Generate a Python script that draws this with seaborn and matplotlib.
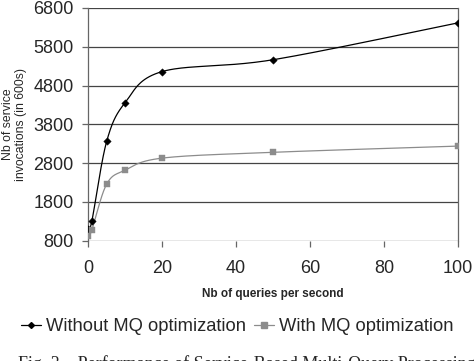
import numpy as np
import pandas as pd
import matplotlib
matplotlib.use("Agg")
import matplotlib.pyplot as plt
import seaborn as sns
from matplotlib.lines import Line2D

queries = [0, 1, 5, 10, 20, 50, 100]
without_mq = [1110, 1310, 3360, 4360, 5160, 5465, 6415]
with_mq = [930, 1080, 2260, 2620, 2930, 3080, 3240]
series_names = ["Without MQ optimization", "With MQ optimization"]
y_ticks = [800, 1800, 2800, 3800, 4800, 5800, 6800]
x_ticks = [0, 20, 40, 60, 80, 100]

sns.set_style("white")
plt.rcParams["font.family"] = ["Liberation Sans", "DejaVu Sans"]

fig = plt.figure(figsize=(4.74, 3.61), dpi=100)
ax = fig.add_axes([0.186, 0.333, 0.780, 0.645])

def smooth(xs, ys, sx=3.7, sy=0.039, n=40):
    # Excel-like smoothed line (Bezier with Catmull-Rom control points) in screen scale
    P = np.column_stack([np.asarray(xs, float) * sx, np.asarray(ys, float) * sy])
    out = []
    for i in range(len(P) - 1):
        p0 = P[i - 1] if i > 0 else P[i]
        p1, p2 = P[i], P[i + 1]
        p3 = P[i + 2] if i + 2 < len(P) else P[i + 1]
        c1 = p1 + (p2 - p0) / 6.0
        c2 = p2 - (p3 - p1) / 6.0
        t = np.linspace(0, 1, n)[:, None]
        seg = (1 - t) ** 3 * p1 + 3 * (1 - t) ** 2 * t * c1 + 3 * (1 - t) * t ** 2 * c2 + t ** 3 * p2
        out.append(seg if i == 0 else seg[1:])
    S = np.vstack(out)
    return S[:, 0] / sx, S[:, 1] / sy

colors = ["black", "#8c8c8c"]
markers = ["D", "s"]
msizes = [3, 3.8]
for vals, col, mk, ms in zip([without_mq, with_mq], colors, markers, msizes):
    cx, cy = smooth(queries, vals)
    ax.plot(cx, cy, color=col, lw=0.9, zorder=3)
    sns.scatterplot(x=queries, y=vals, ax=ax, color=col, marker=mk, s=ms ** 2 * 1.6,
                    edgecolor=col, linewidth=0.3, zorder=4, legend=False)

ax.set_xlim(0, 100)
ax.set_ylim(800, 6800)
ax.set_yticks(y_ticks)
ax.set_xticks(x_ticks)
ax.set_yticklabels([str(v) for v in y_ticks], fontsize=13)
ax.set_xticklabels([str(v) for v in x_ticks], fontsize=13)
for yv in y_ticks:
    ax.axhline(yv, color="#444444", lw=0.9, zorder=1)
for s in ["top", "bottom"]:
    ax.spines[s].set_visible(False)
for s in ["left", "right"]:
    ax.spines[s].set_color("#666666")
    ax.spines[s].set_linewidth(0.9)
ax.tick_params(axis="x", direction="out", length=4, width=0.9, color="#666666", pad=10, bottom=True)
ax.tick_params(axis="y", length=4.3, width=0.9, color="#666666", direction="out", pad=6, left=True)

ax.set_ylabel("Nb of service\ninvocations (in 600s)", fontsize=8.8, labelpad=5, linespacing=1.05)
ax.set_xlabel("Nb of queries per second", fontsize=8.5, fontweight="bold", labelpad=7.5)

handles = [Line2D([0], [0], color=c, lw=0.9, marker=m, markersize=ms, markerfacecolor=c, markeredgecolor=c)
           for c, m, ms in zip(colors, markers, msizes)]
fig.legend(handles, series_names, loc="center", bbox_to_anchor=(0.5, 0.095), ncol=2,
           frameon=False, fontsize=13.2, handlelength=1.1, handletextpad=0.25, columnspacing=0.45)

fig.text(0.038, 1 - 355 / 361, "Fig. 3.   Performance of Service-Based Multi-Query Processing",
         fontsize=13, family=["Liberation Serif", "DejaVu Serif"], va="top", ha="left")

fig.savefig("out.png", dpi=100)
